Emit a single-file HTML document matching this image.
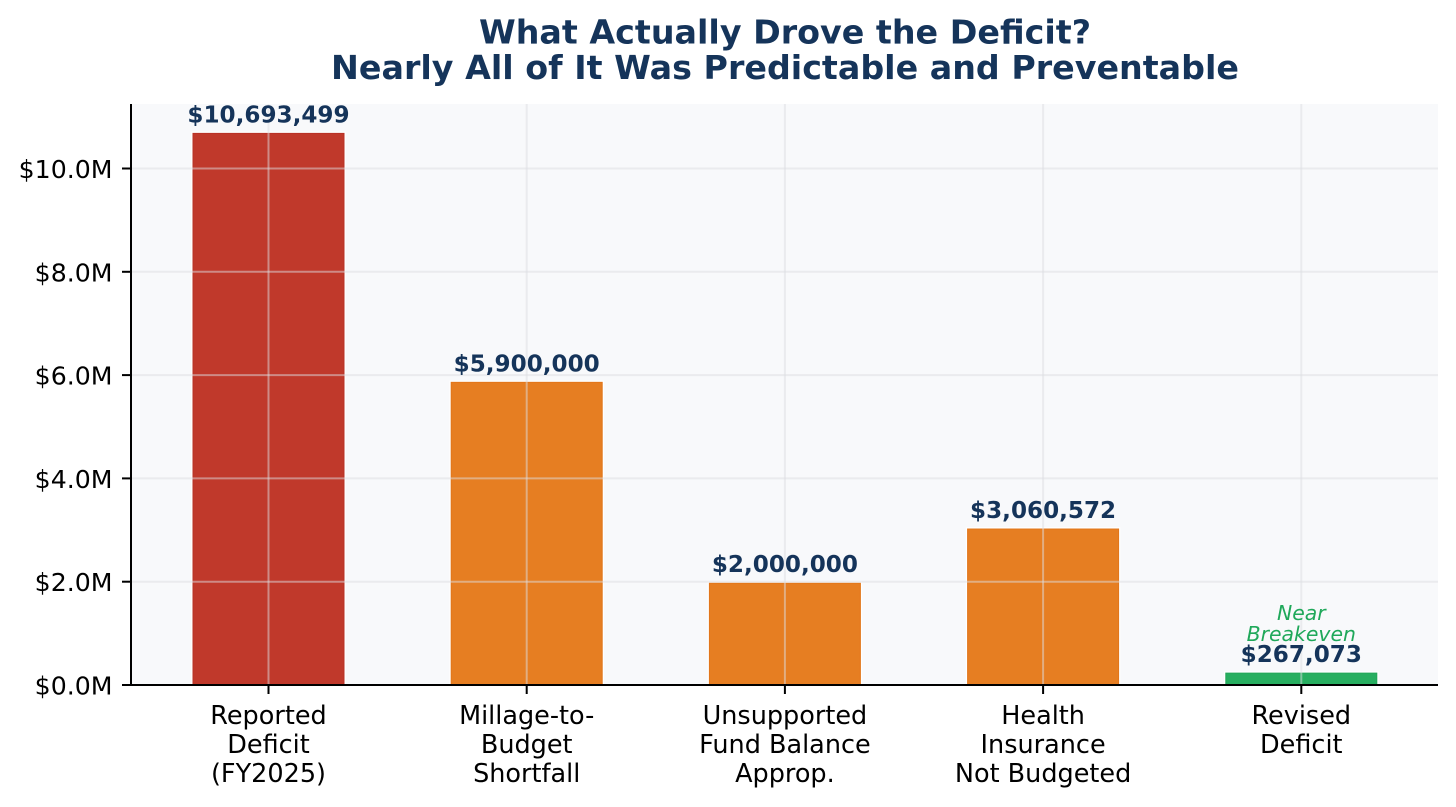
<!DOCTYPE html>
<html lang="en">
<head>
<meta charset="utf-8">
<title>What Actually Drove the Deficit?</title>
<style>
html,body{margin:0;padding:0;background:#fff;}
svg{display:block;}
text{font-family:"DejaVu Sans","Liberation Sans",sans-serif;}
</style>
</head>
<body>
<svg id="chart" xmlns="http://www.w3.org/2000/svg" width="1456" height="807" viewBox="0 0 1456 807">
<rect x="0" y="0" width="1456" height="807" fill="#ffffff"/>
<text x="785" y="43.5" text-anchor="middle" font-size="33.3" font-weight="700" fill="#15345a">What Actually Drove the Deficit?</text>
<text x="785" y="79" text-anchor="middle" font-size="33.3" font-weight="700" fill="#15345a">Nearly All of It Was Predictable and Preventable</text>
<rect x="131" y="104" width="1307" height="581" fill="#f8f9fb"/>
<g id="layer"></g>
</svg>
<script>
const categories = [
  ["Reported", "Deficit", "(FY2025)"],
  ["Millage-to-", "Budget", "Shortfall"],
  ["Unsupported", "Fund Balance", "Approp."],
  ["Health", "Insurance", "Not Budgeted"],
  ["Revised", "Deficit"]
];
const barValues = [10.68, 5.86, 1.97, 3.02, 0.23];
const valueLabels = ["$10,693,499", "$5,900,000", "$2,000,000", "$3,060,572", "$267,073"];
const barKinds = ["reported", "driver", "driver", "driver", "revised"];
const yTicks = [0, 2, 4, 6, 8, 10];

const NS = "http://www.w3.org/2000/svg";
const layer = document.getElementById("layer");
const left = 131, right = 1438, top_ = 104, bottom = 685;
const yScale = v => bottom - v * 51.65;
const xScale = i => 268.5 + i * 258.2;
const barWidth = 151;
const fills = {reported: "#c0392b", driver: "#e67e22", revised: "#27ae60"};
const edges = {reported: "#b83226", driver: "#e2761a", revised: "#22a658"};

function make(tag, attrs, text) {
  const el = document.createElementNS(NS, tag);
  for (const k in attrs) el.setAttribute(k, attrs[k]);
  if (text !== undefined) el.textContent = text;
  layer.appendChild(el);
  return el;
}

// bars sit under the grid
barValues.forEach((v, i) => {
  const y = yScale(v);
  const x = xScale(i) - barWidth / 2;
  const halo = make("rect", {x: x - 0.5, y: y - 0.5, width: barWidth + 1, height: bottom - y + 0.5, fill: "none", stroke: "#ffffff", "stroke-width": 2.5});
  
  
  const bar = make("rect", {x: x, y: y, width: barWidth, height: bottom - y, fill: fills[barKinds[i]], stroke: edges[barKinds[i]], "stroke-width": 1});
  
  
});

// grid lines
yTicks.forEach(t => {
  if (t === 0) return;
  const g = make("line", {x1: left, x2: right, y1: yScale(t), y2: yScale(t), stroke: "#dcdde2", "stroke-opacity": 0.5, "stroke-width": 2});
  
  
});
categories.forEach((c, i) => {
  const g = make("line", {x1: xScale(i), x2: xScale(i), y1: top_, y2: bottom, stroke: "#dcdde2", "stroke-opacity": 0.5, "stroke-width": 2});
  
  
});

// value labels
valueLabels.forEach((s, i) => {
  const t = make("text", {x: xScale(i), y: yScale(barValues[i]) - 11, "text-anchor": "middle", "font-size": 23.1, "font-weight": 700, fill: "#15345a"}, s);
  
  
});

// near-breakeven note
const note1 = make("text", {x: xScale(4), y: yScale(barValues[4]) - 53, "text-anchor": "middle", "font-size": 20.4, "font-style": "italic", fill: "#1fa85a"}, "Near");


const note2 = make("text", {x: xScale(4), y: yScale(barValues[4]) - 32, "text-anchor": "middle", "font-size": 20.4, "font-style": "italic", fill: "#1fa85a"}, "Breakeven");



// spines
const sl = make("line", {x1: left, x2: left, y1: top_, y2: bottom + 1, stroke: "#000", "stroke-width": 2});


const sb = make("line", {x1: left - 1, x2: right, y1: bottom, y2: bottom, stroke: "#000", "stroke-width": 2});



// y ticks
yTicks.forEach(t => {
  const m = make("line", {x1: left - 9, x2: left, y1: yScale(t), y2: yScale(t), stroke: "#000", "stroke-width": 2});
  
  
  const l = make("text", {x: left - 18.5, y: yScale(t) + 9.5, "text-anchor": "end", "font-size": 25.2, fill: "#000"}, "$" + t.toFixed(1) + "M");
  
  
});

// x ticks and category labels
categories.forEach((lines, i) => {
  const m = make("line", {x1: xScale(i), x2: xScale(i), y1: bottom, y2: bottom + 9, stroke: "#000", "stroke-width": 2});
  
  
  lines.forEach((s, j) => {
    const l = make("text", {x: xScale(i), y: 724 + j * 29, "text-anchor": "middle", "font-size": 25.5, fill: "#000"}, s);
    
    
  });
});
</script>
</body>
</html>
